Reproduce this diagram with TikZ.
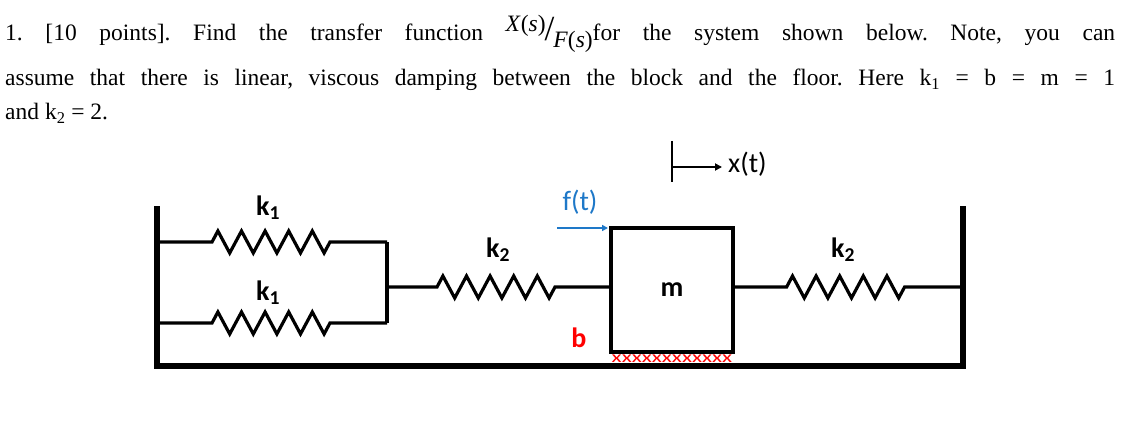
\documentclass[tikz,border=0pt]{standalone}
\usepackage{fontspec}
\setmainfont{Liberation Serif}
\newfontfamily\calib{Carlito}
\usetikzlibrary{decorations.pathmorphing,arrows.meta}
\frenchspacing
\begin{document}
\begin{tikzpicture}[x=1pt,y=-1pt,
  ln/.style={line width=3.2pt,line join=miter},
  spr/.style={decoration={zigzag,amplitude=11pt,segment length=23.6pt}},
  lab/.style={font=\calib\bfseries\fontsize{28}{28}\selectfont,inner sep=0pt},
  tx/.style={anchor=west,inner sep=0pt,font=\frenchspacing\fontsize{23.5}{23.5}\selectfont}]
\useasboundingbox (0,0) rectangle (1121,422);
\node[tx] (l1) at (5,34)
 {\makebox[1110pt][s]{1. [10 points]. Find the transfer function \raisebox{9pt}{\textit{X}(\textit{s})}\hspace{-1pt}\scalebox{1.5}{/}\hspace{-1pt}\raisebox{-7pt}{\textit{F}(\textit{s})}for the system shown below. Note, you can}};
\node[tx] (l2) at (5,80)
 {\makebox[1110pt][s]{assume that there is linear, viscous damping between the block and the floor. Here k\textsubscript{1} = b = m = 1}};
\node[tx] (l3) at (5,113)
 {and k\textsubscript{2} = 2.};
% walls and floor
\coordinate (wlt) at (157,206);
\coordinate (wlb) at (157,366);
\coordinate (wrt) at (963,206);
\coordinate (wrb) at (963,366);
\draw[line width=6pt] (wlt) -- (wlb) -- (wrb) -- (wrt);
% left parallel springs
\coordinate (a1) at (157,242); \coordinate (b1) at (387,242);
\coordinate (a2) at (157,323); \coordinate (b2) at (387,323);
\draw[ln,spr] (a1) -- ++(55,0) decorate{-- ++(118,0)} -- (b1);
\draw[ln,spr] (a2) -- ++(55,0) decorate{-- ++(118,0)} -- (b2);
\draw[ln] (b1) -- (b2);
% mass
\node[draw,line width=3.2pt,minimum width=122pt,minimum height=124pt,inner sep=0pt] (m) at (672,290) {};
\node[lab] (mt) at (m.center) {m};
\coordinate (c) at (387,287);
\draw[ln,spr] (c) -- ++(50,0) decorate{-- ++(118,0)} -- (m.west |- c);
\coordinate (d) at (963,287);
\draw[ln,spr] (m.east |- d) -- ++(52,0) decorate{-- ++(118,0)} -- (d);
% labels
\node[lab] (k1a) at (268,208) {k\textsubscript{1}};
\node[lab] (k1b) at (268,293) {k\textsubscript{1}};
\node[lab] (k2a) at (498,250) {k\textsubscript{2}};
\node[lab] (k2b) at (843,250) {k\textsubscript{2}};
\node[lab,text=red] (b) at (579,338) {b};
\node[text=red,inner sep=0pt,font=\calib\fontsize{16}{16}\selectfont] (xx) at (672,359) {\scalebox{1.45}[1]{xxxxxxxxxxxx}};
% force
\node[lab,font=\calib\fontsize{28}{28}\selectfont,text={rgb,255:red,30;green,120;blue,200}] (f) at (580,202) {f(t)};
\coordinate (fa) at (557,228); \coordinate (fb) at (608,228);
\draw[line width=2.2pt,draw={rgb,255:red,30;green,120;blue,200},-{Triangle[length=6pt,width=6pt]}] (fa) -- (fb);
% displacement
\coordinate (xa) at (672,141); \coordinate (xb) at (672,182);
\draw[line width=2.6pt] (xa) -- (xb);
\coordinate (xc) at (672,167); \coordinate (xd) at (722,167);
\draw[line width=2pt,-{Triangle[length=7pt,width=7pt]}] (xc) -- (xd);
\node[lab,font=\calib\fontsize{28}{28}\selectfont,anchor=west] (xt) at (728,164) {x(t)};
\end{tikzpicture}
\end{document}
